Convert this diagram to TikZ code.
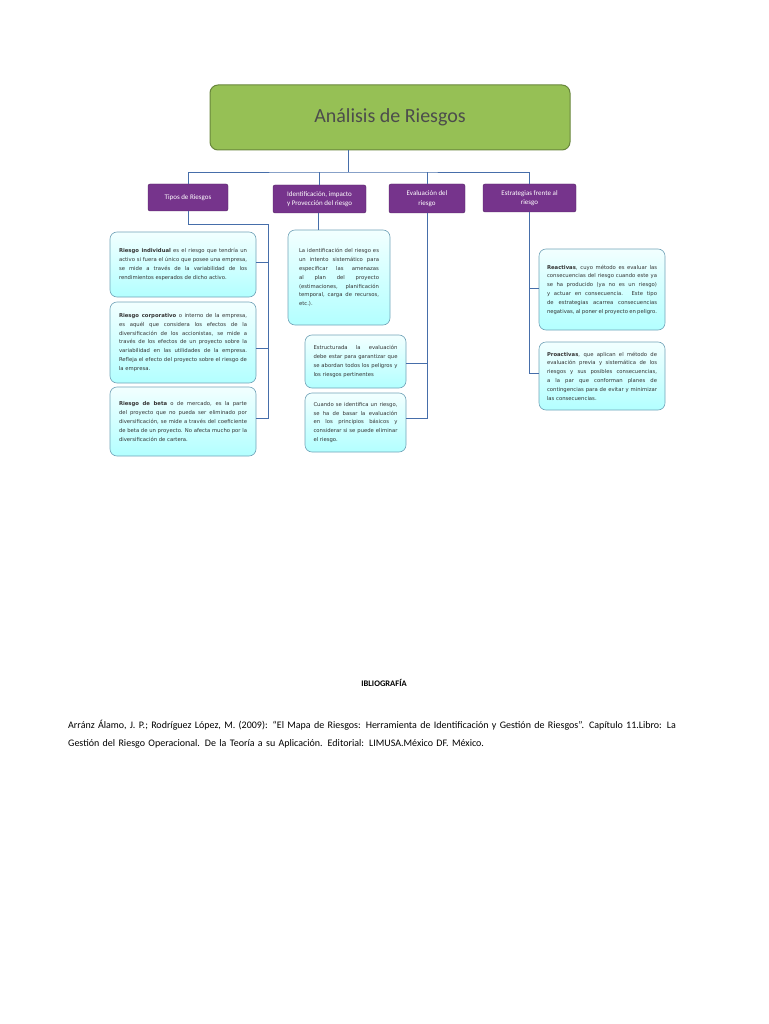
\documentclass[tikz,border=0pt]{standalone}
\usepackage{fontspec}
\setmainfont{Carlito}
\newfontfamily\bubfont{DejaVu Sans}
\newcommand{\bubsetup}{\bubfont\fontsize{5.3}{8.8}\selectfont\hyphenpenalty=10000\relax\exhyphenpenalty=10000\relax}
\definecolor{tgreen}{RGB}{150,192,85}
\definecolor{tpurp}{RGB}{118,52,140}
\definecolor{lblue}{RGB}{70,110,170}
\begin{document}
\begin{tikzpicture}[x=1pt,y=-1pt,
 line/.style={draw=lblue, line width=0.9pt},
 head/.style={draw=tpurp!70!black, fill=tpurp, rounded corners=2pt, text=white, font=\fontsize{7}{9.5}\selectfont, align=center, inner sep=1pt},
 bub/.style={draw=cyan!40!gray, line width=0.6pt, top color=cyan!5, bottom color=cyan!30, rounded corners=7pt, font=\bubsetup, text=black!80, align=justify, inner sep=0pt}]
\useasboundingbox (0,0) rectangle (768,1024);
\node[draw=tgreen!70!black, line width=1pt, fill=tgreen, rounded corners=8pt, minimum width=360pt, minimum height=65pt, font=\fontsize{20}{24}\selectfont, text=black!70] (t) at (390,117.5) {Análisis de Riesgos};
\node[head, minimum width=80pt, minimum height=27pt] (h1) at (188,197.5) {Tipos de Riesgos};
\node[head, minimum width=93pt, minimum height=28pt] (h2) at (319.5,199) {Identificación, impacto\\y Provección del riesgo};
\node[head, minimum width=76pt, minimum height=29pt] (h3) at (427,198.5) {Evaluación del\\riesgo};
\node[head, minimum width=93pt, minimum height=28pt] (h4) at (529.5,198) {Estrategias frente al\\riesgo};
\node[bub, minimum width=146pt, minimum height=65pt, text width=128pt] (b1) at (183,264.5) {\textbf{Riesgo individual} es el riesgo que tendría un activo si fuera el único que posee una empresa, se mide a través de la variabilidad de los rendimientos esperados de dicho activo.};
\node[bub, minimum width=146pt, minimum height=81pt, text width=128pt] (b2) at (183,342.5) {\textbf{Riesgo corporativo} o interno de la empresa, es aquél que considera los efectos de la diversificación de los accionistas, se mide a través de los efectos de un proyecto sobre la variabilidad en las utilidades de la empresa. Refleja el efecto del proyecto sobre el riesgo de la empresa.};
\node[bub, minimum width=146pt, minimum height=69pt, text width=128pt] (b3) at (183,421.5) {\textbf{Riesgo de beta} o de mercado, es la parte del proyecto que no pueda ser eliminado por diversificación, se mide a través del coeficiente de beta de un proyecto. No afecta mucho por la diversificación de cartera.};
\node[bub, minimum width=102pt, minimum height=95pt, text width=80pt] (b4) at (339,277.5) {La identificación del riesgo es un intento sistemático para especificar las amenazas al plan del proyecto (estimaciones, planificación temporal, carga de recursos, etc.).};
\node[bub, minimum width=101pt, minimum height=53pt, text width=84pt] (b5) at (355.5,361.5) {Estructurada la evaluación debe estar para garantizar que se abordan todos los peligros y los riesgos pertinentes};
\node[bub, minimum width=101pt, minimum height=59pt, text width=84pt] (b6) at (355.5,422.5) {Cuando se identifica un riesgo, se ha de basar la evaluación en los principios básicos y considerar si se puede eliminar el riesgo.};
\node[bub, minimum width=126pt, minimum height=81pt, text width=110pt] (b7) at (602,289.5) {\textbf{Reactivas}, cuyo método es evaluar las consecuencias del riesgo cuando este ya se ha producido (ya no es un riesgo) y actuar en consecuencia. Este tipo de estrategias acarrea consecuencias negativas, al poner el proyecto en peligro.};
\node[bub, minimum width=126pt, minimum height=68pt, text width=110pt] (b8) at (602,376) {\textbf{Proactivas}, que aplican el método de evaluación previa y sistemática de los riesgos y sus posibles consecuencias, a la par que conforman planes de contingencias para de evitar y minimizar las consecuencias.};
\coordinate (j) at (348,172);
\draw[line] (t.south -| j) -- (j);
\draw[line] (h1.north) |- (j) -| (h4.north);
\draw[line] (h2.north) -- (h2.north |- j);
\draw[line] (h3.north) -- (h3.north |- j);
\coordinate (k) at (268,224);
\draw[line] (h1.south) |- (k) -- (268,418) -- (b3.east |- 0,418);
\draw[line] (268,262) -- (b1.east |- 0,262);
\draw[line] (268,348) -- (b2.east |- 0,348);
\draw[line] (h2.south -| 318,0) -- (318,230);
\draw[line] (h3.south) -- (427,418) -- (b6.east |- 0,418);
\draw[line] (427,363) -- (b5.east |- 0,363);
\draw[line] (h4.south) -- (529.5,373) -- (b8.west |- 0,373);
\draw[line] (529.5,288) -- (b7.west |- 0,288);
\node[font=\bfseries\fontsize{8.5}{10}\selectfont] (bib) at (384,683) {IBLIOGRAFÍA};
\node[anchor=north west, text width=630pt, align=left, inner sep=0pt, font=\fontsize{10}{18}\selectfont] (ref) at (68,720) {Arránz Álamo, J. P.; Rodríguez López, M. (2009): “El Mapa de Riesgos: Herramienta de Identificación y Gestión de Riesgos”. Capítulo 11.Libro: La Gestión del Riesgo Operacional. De la Teoría a su Aplicación. Editorial: LIMUSA.México DF. México.};
\end{tikzpicture}
\end{document}
